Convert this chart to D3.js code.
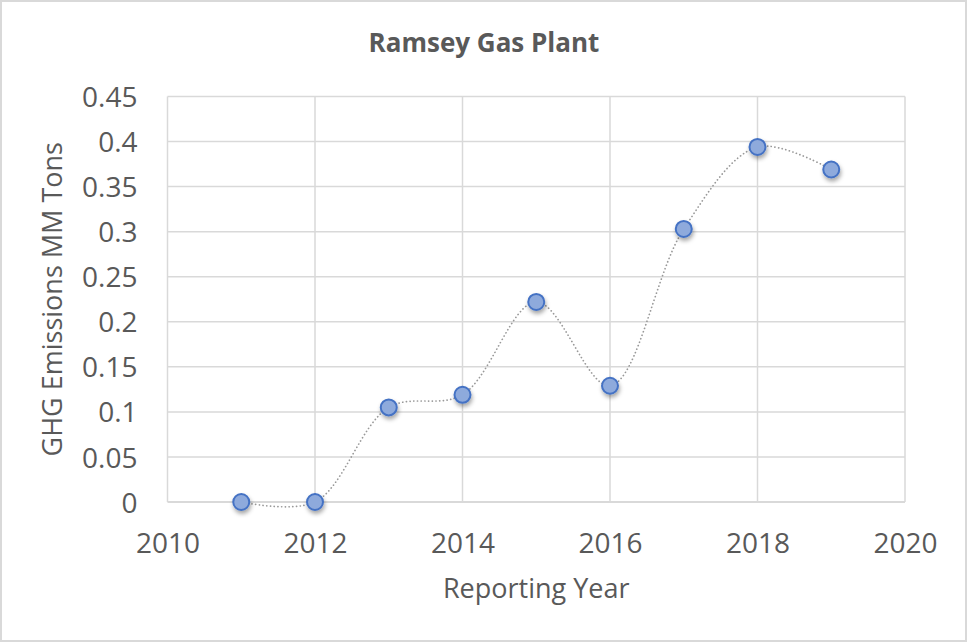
<!DOCTYPE html>
<html>
<head>
<meta charset="utf-8">
<script src="https://cdn.jsdelivr.net/npm/d3@7"></script>
<style>
  body { margin: 0; background: #fff; }
  svg { display: block; font-family: "Open Sans", "Liberation Sans", sans-serif; }
</style>
</head>
<body>
<svg id="chart"></svg>
<script>
// data
const years = [2011, 2012, 2013, 2014, 2015, 2016, 2017, 2018, 2019];
const emissions = [0, 0, 0.105, 0.119, 0.222, 0.129, 0.303, 0.394, 0.369];
const xTicks = [2010, 2012, 2014, 2016, 2018, 2020];
const yTicks = [0, 0.05, 0.1, 0.15, 0.2, 0.25, 0.3, 0.35, 0.4, 0.45];

const width = 968, height = 643;
const margin = { top: 96.5, right: 63, bottom: 141, left: 167.5 };

const svg = d3.select("#chart")
  .attr("width", width)
  .attr("height", height);

// outer frame
svg.append("rect")
  .attr("x", 1).attr("y", 1)
  .attr("width", width - 3).attr("height", height - 3)
  .attr("fill", "#fff")
  .attr("stroke", "#d9d9d9")
  .attr("stroke-width", 2);

// marker shadow
const defs = svg.append("defs");
defs.append("filter")
  .attr("id", "shadow")
  .attr("x", "-50%").attr("y", "-50%")
  .attr("width", "200%").attr("height", "200%")
  .append("feDropShadow")
  .attr("dx", 1).attr("dy", 3)
  .attr("stdDeviation", 2)
  .attr("flood-color", "#000")
  .attr("flood-opacity", 0.35);

const x = d3.scaleLinear()
  .domain([2010, 2020])
  .range([margin.left, width - margin.right]);

const y = d3.scaleLinear()
  .domain([0, 0.45])
  .range([height - margin.bottom, margin.top]);

const textColor = "#595959";
const gridColor = "#d9d9d9";

// ---- gridlines ----
const grid = svg.append("g").attr("class", "grid");
grid.selectAll("line.h")
  .data(yTicks)
  .enter().append("line")
  .attr("class", "h")
  .attr("x1", x(2010)).attr("x2", x(2020))
  .attr("y1", d => y(d)).attr("y2", d => y(d))
  .attr("stroke", gridColor)
  .attr("stroke-width", d => d === 0 ? 2 : 1.5);

grid.selectAll("line.v")
  .data(xTicks)
  .enter().append("line")
  .attr("class", "v")
  .attr("x1", d => x(d)).attr("x2", d => x(d))
  .attr("y1", y(0)).attr("y2", y(0.45))
  .attr("stroke", gridColor)
  .attr("stroke-width", 1.5);

// ---- axes ----
const yAxis = svg.append("g")
  .attr("transform", `translate(${margin.left},0)`)
  .call(d3.axisLeft(y).tickValues(yTicks).tickSize(0).tickPadding(30)
    .tickFormat(d => String(+d.toFixed(2))));

const xAxis = svg.append("g")
  .attr("transform", `translate(0,${y(0)})`)
  .call(d3.axisBottom(x).tickValues(xTicks).tickSize(0).tickPadding(30)
    .tickFormat(d3.format("d")));

[xAxis, yAxis].forEach(ax => {
  ax.select(".domain").remove();
  ax.selectAll("text")
    .attr("fill", textColor)
    .style("font-size", "28px")
    .style("font-family", "\"Open Sans\", \"Liberation Sans\", sans-serif");
});
yAxis.selectAll("text").attr("dy", "0.36em");
xAxis.selectAll("text").attr("dy", "0.75em");

// ---- smoothed dotted line ----
const line = d3.line()
  .x((d, i) => x(years[i]))
  .y(d => y(d))
  .curve(d3.curveCatmullRom.alpha(0.5));

svg.append("path")
  .datum(emissions)
  .attr("d", line)
  .attr("fill", "none")
  .attr("stroke", "#999")
  .attr("stroke-width", 1.7)
  .attr("stroke-linecap", "round")
  .attr("stroke-dasharray", "0.1,3.6");

// ---- markers ----
svg.append("g")
  .selectAll("circle")
  .data(emissions)
  .enter().append("circle")
  .attr("cx", (d, i) => x(years[i]))
  .attr("cy", d => y(d))
  .attr("r", 8)
  .attr("fill", "#8eaadc")
  .attr("stroke", "#4472c4")
  .attr("stroke-width", 2)
  .attr("filter", "url(#shadow)");

// ---- titles ----
svg.append("text")
  .attr("x", 484)
  .attr("y", 52)
  .attr("text-anchor", "middle")
  .attr("fill", textColor)
  .style("font-size", "26px")
  .style("font-weight", "bold")
  .text("Ramsey Gas Plant");

svg.append("text")
  .attr("x", (x(2010) + x(2020)) / 2)
  .attr("y", 598)
  .attr("text-anchor", "middle")
  .attr("fill", textColor)
  .style("font-size", "27px")
  .text("Reporting Year");

svg.append("text")
  .attr("transform", `translate(62,${(y(0) + y(0.45)) / 2}) rotate(-90)`)
  .attr("text-anchor", "middle")
  .attr("fill", textColor)
  .style("font-size", "27px")
  .text("GHG Emissions MM Tons");
</script>
</body>
</html>
